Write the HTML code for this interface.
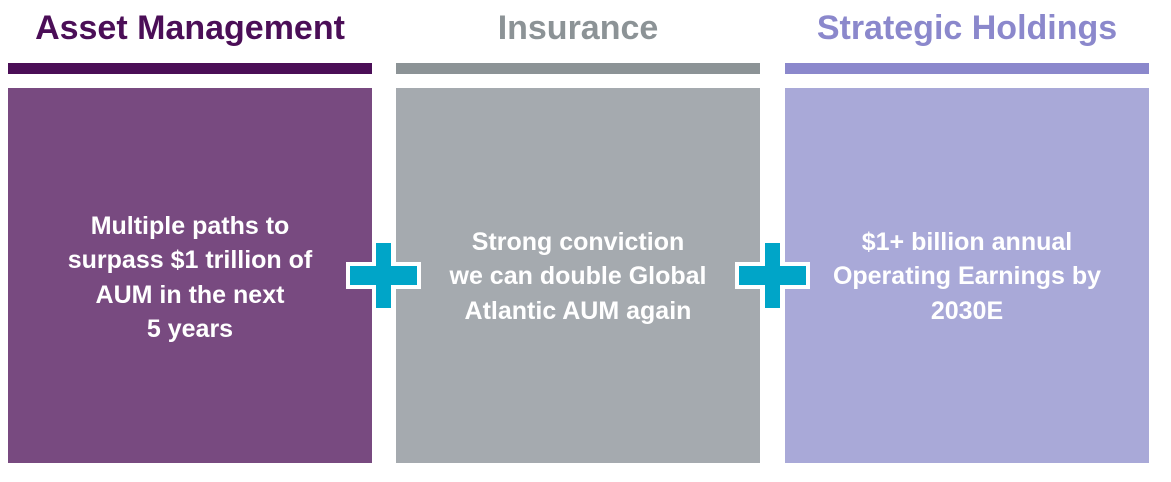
<!DOCTYPE html>
<html><head><style>
body{margin:0;width:1171px;height:482px;background:#fff;position:relative;overflow:hidden;font-family:"Liberation Sans",sans-serif;font-weight:bold}
.t{position:absolute;top:8px;font-size:34px;text-align:center;width:364px;line-height:40px}
.bar{position:absolute;top:63px;height:11px;width:364px}
.box{position:absolute;top:88px;height:375px;width:364px;color:#fff;font-size:25px;line-height:34.5px;text-align:center;display:flex;align-items:center;justify-content:center}
.plus{position:absolute}
</style></head><body>
<div class="t" style="left:8px;color:#4b0e57">Asset Management</div>
<div class="t" style="left:396px;color:#8c9396">Insurance</div>
<div class="t" style="left:785px;color:#8b88cc">Strategic Holdings</div>
<div class="bar" style="left:8px;background:#4b0e57"></div>
<div class="bar" style="left:396px;background:#8c9396"></div>
<div class="bar" style="left:785px;background:#8b88cc"></div>
<div class="box" style="left:8px;background:#784a80"><div style="margin-top:4px">Multiple paths to<br>surpass $1 trillion of<br>AUM in the next<br>5 years</div></div>
<div class="box" style="left:396px;background:#a5aaaf"><div style="margin-top:2px">Strong conviction<br>we can double Global<br>Atlantic AUM again</div></div>
<div class="box" style="left:785px;background:#a9a9d8"><div style="margin-top:2px">$1+ billion annual<br>Operating Earnings by<br>2030E</div></div>
<svg class="plus" style="left:0;top:0" width="1171" height="482">
<g fill="#00a5c8" stroke="#fff" stroke-width="4">
<path d="M374 241h19v23h26v23h-26v23h-19v-23h-26v-23h26z"/>
<path d="M763 241h19v23h26v23h-26v23h-19v-23h-26v-23h26z"/>
</g>
</svg>
</body></html>
